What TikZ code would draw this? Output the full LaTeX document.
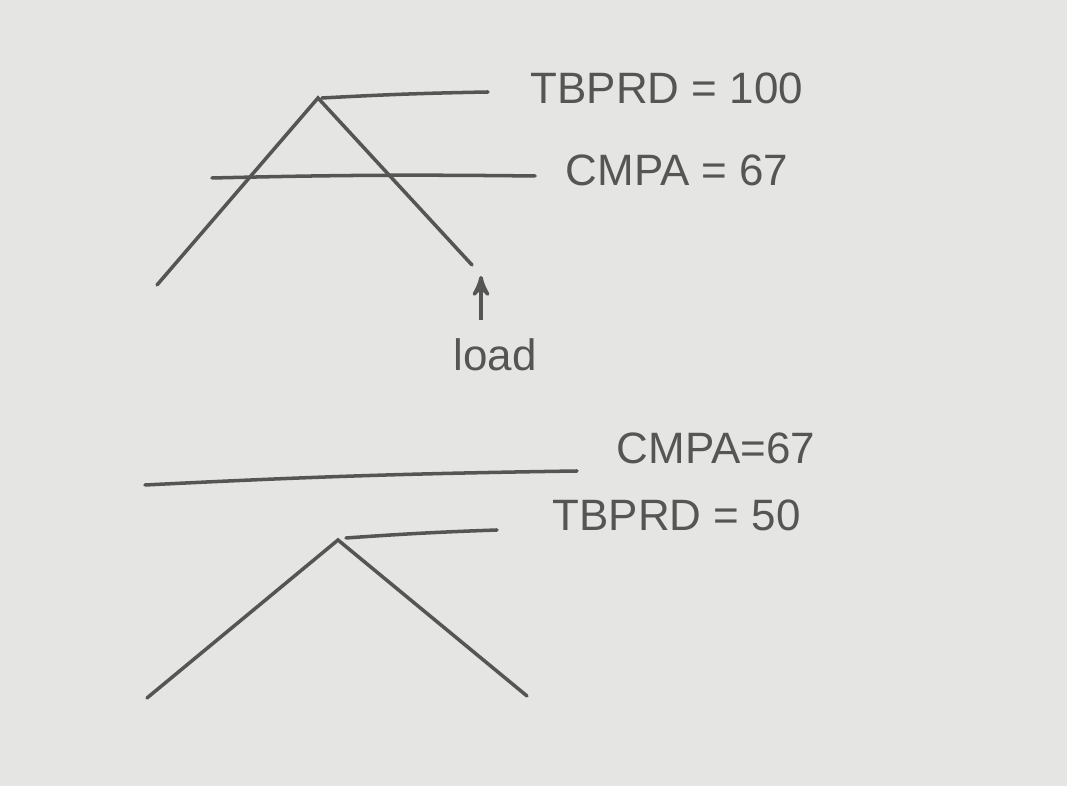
\documentclass[tikz,border=0pt]{standalone}
\usepackage{fontspec}
\setmainfont{Liberation Sans}
\usepackage{tikz}
\usetikzlibrary{arrows, positioning}
\definecolor{paper}{RGB}{229,229,227}
\definecolor{pencil}{RGB}{85,85,85}

\begin{document}
\begin{tikzpicture}[x=1cm,y=1cm]
    \tikzstyle{label}=[anchor=west,inner sep=0pt,text=pencil,font=\fontsize{12.5}{15}\selectfont]
    \tikzstyle{edge} = [draw,pencil,line width=1pt,->,>=stealth']
    \tikzstyle{edge2} = [draw,pencil,line width=1pt,-,line cap=round]

    \fill[paper] (0,0) rectangle (10.67,-7.86);
    \useasboundingbox (0,0) rectangle (10.67,-7.86);

    % top: TBPRD = 100
    \coordinate (a1) at (1.57,-2.85);
    \coordinate (a2) at (3.18,-0.98);
    \coordinate (a3) at (4.72,-2.65);
    \coordinate (p1) at (3.22,-0.98);
    \coordinate (p2) at (4.88,-0.92);
    \coordinate (c1) at (2.12,-1.78);
    \coordinate (c2) at (5.35,-1.76);
    \coordinate (l1) at (4.81,-3.20);
    \coordinate (l2) at (4.81,-2.76);

    \node[label] (tbprd1) at (5.30,-0.88) {TBPRD = 100};
    \node[label] (cmpa1) at (5.65,-1.70) {CMPA = 67};
    \node[text=pencil,font=\fontsize{12.5}{15}\selectfont,inner sep=0pt] (load) at (4.95,-3.55) {load};

    \path[edge2] (a1) -- (a2) -- (a3);
    \path[edge2] (p1) to[bend left=1] (p2);
    \path[edge2] (c1) to[bend left=1] (c2);
    \path[edge] (l1) -- (l2);

    % bottom: TBPRD = 50
    \coordinate (b1) at (1.47,-6.98);
    \coordinate (b2) at (3.38,-5.40);
    \coordinate (b3) at (5.27,-6.96);
    \coordinate (q1) at (3.46,-5.38);
    \coordinate (q2) at (4.97,-5.30);
    \coordinate (d1) at (1.45,-4.85);
    \coordinate (d2) at (5.77,-4.71);

    \node[label] (cmpa2) at (6.16,-4.48) {CMPA=67};
    \node[label] (tbprd2) at (5.52,-5.15) {TBPRD = 50};

    \path[edge2] (b1) -- (b2) -- (b3);
    \path[edge2] (q1) to[bend left=1] (q2);
    \path[edge2] (d1) to[bend left=1] (d2);
\end{tikzpicture}
\end{document}
